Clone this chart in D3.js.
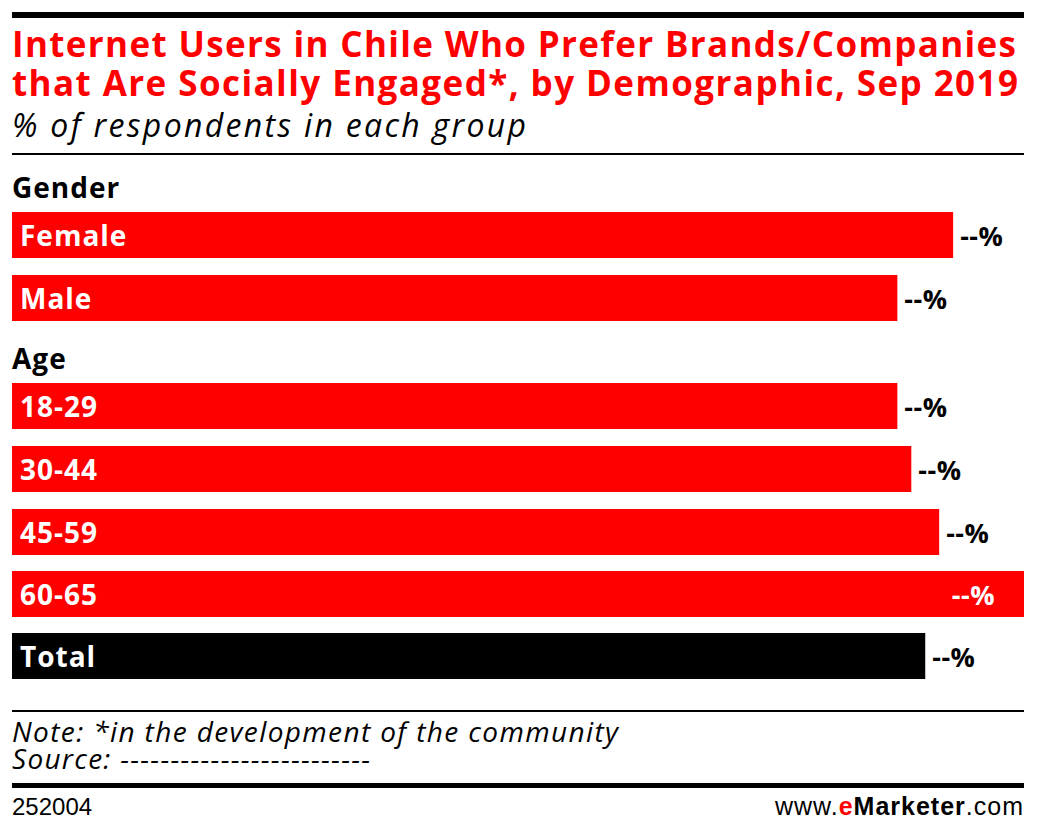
<!DOCTYPE html>
<html>
<head>
<meta charset="utf-8">
<script src="https://cdn.jsdelivr.net/npm/d3@7"></script>
<style>
body{margin:0;background:#fff;}
svg{display:block;}
</style>
</head>
<body>
<svg width="1038" height="834"></svg>
<script>
// data (values are not published, "--%", lengths)
var groups = ["Gender", "Gender", "Age", "Age", "Age", "Age", "Total"];
var categories = ["Female", "Male", "18-29", "30-44", "45-59", "60-65", "Total"];
var values = [81, 76.2, 76.2, 77.4, 79.8, 87.1, 78.6];
var valueLabels = ["--%", "--%", "--%", "--%", "--%", "--%", "--%"];
var groupTitles = ["Gender", "Age"];

var svg = d3.select("svg");
var left = 12, right = 1024;
var font = "'Open Sans', 'Liberation Sans', sans-serif";

// top rule
svg.append("rect").attr("x", left).attr("y", 12).attr("width", right - left).attr("height", 6).attr("fill", "#000");

// title
var title = svg.append("text")
    .attr("fill", "#ff0000")
    .style("font-family", font)
    .style("font-weight", "bold")
    .style("font-size", "35px");
title.append("tspan").attr("x", left).attr("y", 57)
    .attr("textLength", 1004).attr("lengthAdjust", "spacing")
    .text("Internet Users in Chile Who Prefer Brands/Companies");
title.append("tspan").attr("x", left).attr("y", 96)
    .attr("textLength", 1006).attr("lengthAdjust", "spacing")
    .text("that Are Socially Engaged*, by Demographic, Sep 2019");

svg.append("text")
    .attr("x", left).attr("y", 137)
    .attr("textLength", 514).attr("lengthAdjust", "spacing")
    .style("font-family", font)
    .style("font-style", "italic")
    .style("font-size", "32px")
    .text("% of respondents in each group");

svg.append("rect").attr("x", left).attr("y", 153).attr("width", right - left).attr("height", 2).attr("fill", "#000");

// bar rows
var rowY = [212, 275, 383, 446, 509, 571, 633];
var barH = 46;

var x = d3.scaleLinear()
    .domain([0, d3.max(values)])
    .range([left, right]);

var data = categories.map(function(c, i) {
  return {cat: c, group: groups[i], value: values[i], label: valueLabels[i], y: rowY[i]};
});

// group headings
svg.selectAll(".grp")
    .data(groupTitles)
    .enter().append("text")
    .attr("class", "grp")
    .attr("x", left)
    .attr("y", function(g) {
      var first = data.find(function(d) { return d.group == g; });
      return first.y - 14;
    })
    .style("font-family", font)
    .style("font-weight", "bold")
    .style("font-size", "28px")
    .style("letter-spacing", "1px")
    .text(function(g) { return g; });

var row = svg.selectAll(".row")
    .data(data)
    .enter().append("g")
    .attr("class", "row")
    .attr("transform", function(d) { return "translate(0," + d.y + ")"; });

row.append("rect")
    .attr("x", x(0))
    .attr("y", 0)
    .attr("width", function(d) { return x(d.value) - x(0); })
    .attr("height", barH)
    .attr("fill", function(d) { return d.cat == "Total" ? "#000" : "#ff0000"; });

row.append("text")
    .attr("x", left + 8)
    .attr("y", 34)
    .attr("fill", "#fff")
    .style("font-family", font)
    .style("font-weight", "bold")
    .style("font-size", "28px")
    .style("letter-spacing", "1px")
    .text(function(d) { return d.cat; });

var maxV = d3.max(values);
row.append("text")
    .attr("x", function(d) { return d.value == maxV ? x(d.value) - 29 : x(d.value) + 7; })
    .attr("y", 34)
    .attr("text-anchor", function(d) { return d.value == maxV ? "end" : "start"; })
    .attr("fill", function(d) { return d.value == maxV ? "#fff" : "#000"; })
    .style("font-family", font)
    .style("font-weight", "bold")
    .style("font-size", "27px")
    .style("letter-spacing", "0.5px")
    .text(function(d) { return d.label; });

// footer
svg.append("rect").attr("x", left).attr("y", 710).attr("width", right - left).attr("height", 2).attr("fill", "#000");

var note = svg.append("text")
    .style("font-family", font)
    .style("font-style", "italic")
    .style("font-size", "28px");
note.append("tspan").attr("x", left).attr("y", 742)
    .attr("textLength", 606).attr("lengthAdjust", "spacing")
    .text("Note: *in the development of the community");
note.append("tspan").attr("x", left).attr("y", 769)
    .attr("textLength", 358).attr("lengthAdjust", "spacing")
    .text("Source: -------------------------");

svg.append("rect").attr("x", left).attr("y", 783).attr("width", right - left).attr("height", 5).attr("fill", "#000");

svg.append("text")
    .attr("x", left).attr("y", 815)
    .style("font-family", "'Liberation Sans', sans-serif")
    .style("font-size", "24px")
    .text("252004");

var brand = svg.append("text")
    .attr("x", right).attr("y", 815)
    .attr("text-anchor", "end")
    .style("font-family", "'Liberation Sans', sans-serif")
    .style("font-size", "25px")
    .style("letter-spacing", "1px");
brand.append("tspan").text("www.");
brand.append("tspan").attr("fill", "#ff0000").style("font-weight", "bold").text("e");
brand.append("tspan").style("font-weight", "bold").text("Marketer");
brand.append("tspan").text(".com");
</script>
</body>
</html>
